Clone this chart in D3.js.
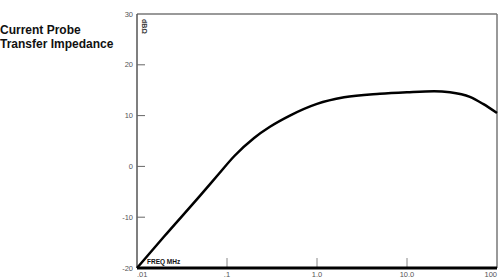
<!DOCTYPE html>
<html>
<head>
<meta charset="utf-8">
<script src="https://cdn.jsdelivr.net/npm/d3@7"></script>
<style>
	body { margin: 0; background: #fff; }
	svg { display: block; font-family: Arial, "Liberation Sans", sans-serif; }
</style>
</head>
<body>
<svg id="chart" width="500" height="279"></svg>
<script>
// values
var freqs = [0.01, 0.02, 0.05, 0.08, 0.12, 0.2, 0.3, 0.5, 1, 2, 5, 10, 20, 30, 50, 70, 100];
var impedance = [-20, -13.8, -5.8, -1.6, 2.0, 5.6, 7.8, 10.0, 12.3, 13.6, 14.3, 14.6, 14.8, 14.6, 13.7, 12.3, 10.5];
var yTicks = [30, 20, 10, 0, -10, -20];
var xTicks = [0.01, 0.1, 1, 10, 100];
var xTickLabels = ['.01', '.1', '1.0', '10.0', '100'];
var titleLines = ['Current Probe', 'Transfer Impedance'];

var svg = d3.select('#chart'),
	margin = {left: 137, right: 3, top: 14, bottom: 11},
	width = 500 - margin.left - margin.right,
	height = 279 - margin.top - margin.bottom;

var x = d3.scaleLog().domain([0.01, 100]).range([0, width]),
	y = d3.scaleLinear().domain([-20, 30]).range([height, 0]);

svg.selectAll('text.title').data(titleLines).enter().append('text')
	.attr('class', 'title')
	.attr('x', 0)
	.attr('y', function (d, i) { return 34 + i * 13.5; })
	.style('font-size', '12px')
	.style('font-weight', 'bold')
	.style('fill', '#111')
	.text(function (d) { return d; });

var panel = svg.append('g').attr('transform', 'translate(' + margin.left + ',' + margin.top + ')');

// frame: thin grey top/left/right, heavy black base line
panel.append('line').attr('x1', 0).attr('x2', width).attr('y1', 0).attr('y2', 0)
	.style('stroke', '#777').style('stroke-width', 1.5);
panel.append('line').attr('x1', 0).attr('x2', 0).attr('y1', 0).attr('y2', height)
	.style('stroke', '#555').style('stroke-width', 1.5);
panel.append('line').attr('x1', width).attr('x2', width).attr('y1', 0).attr('y2', height)
	.style('stroke', '#777').style('stroke-width', 1.5);

// y axis ticks point inward
panel.selectAll('line.ytick').data(yTicks.filter(function (d) { return d !== 30 && d !== -20; })).enter().append('line')
	.attr('class', 'ytick')
	.attr('x1', 0).attr('x2', 8)
	.attr('y1', function (d) { return y(d); }).attr('y2', function (d) { return y(d); })
	.style('stroke', '#666').style('stroke-width', 1);

panel.selectAll('text.ylabel').data(yTicks).enter().append('text')
	.attr('class', 'ylabel')
	.attr('x', -4)
	.attr('y', function (d) { return y(d); })
	.attr('dy', '.35em')
	.attr('text-anchor', 'end')
	.style('font-size', '7.5px')
	.style('fill', '#555')
	.text(function (d) { return String(d); });

// x axis ticks point upward
panel.selectAll('line.xtick').data(xTicks.slice(1, -1)).enter().append('line')
	.attr('class', 'xtick')
	.attr('x1', function (d) { return x(d); }).attr('x2', function (d) { return x(d); })
	.attr('y1', height).attr('y2', height - 10)
	.style('stroke', '#888').style('stroke-width', 1);

panel.selectAll('text.xlabel').data(xTicks).enter().append('text')
	.attr('class', 'xlabel')
	.attr('x', function (d) { return x(d); })
	.attr('y', height + 9)
	.attr('text-anchor', function (d, i) { return i === 0 ? 'start' : (i === xTicks.length - 1 ? 'end' : 'middle'); })
	.style('font-size', '7.5px')
	.style('fill', '#555')
	.text(function (d, i) { return xTickLabels[i]; });

panel.append('text')
	.attr('transform', 'translate(5,5) rotate(90)')
	.style('font-size', '7px')
	.style('font-weight', 'bold')
	.style('fill', '#333')
	.text('dBΩ');

panel.append('text')
	.attr('x', 10)
	.attr('y', height - 4)
	.style('font-size', '6.5px')
	.style('font-weight', 'bold')
	.style('fill', '#111')
	.text('FREQ MHz');

var line = d3.line()
	.x(function (d) { return x(d[0]); })
	.y(function (d) { return y(d[1]); })
	.curve(d3.curveMonotoneX);

panel.append('path')
	.datum(freqs.map(function (f, i) { return [f, impedance[i]]; }))
	.attr('d', line)
	.style('fill', 'none')
	.style('stroke', '#000')
	.style('stroke-width', 2.5);

panel.append('line').attr('x1', 0).attr('x2', width).attr('y1', height).attr('y2', height)
	.style('stroke', '#000').style('stroke-width', 3);
</script>
</body>
</html>
